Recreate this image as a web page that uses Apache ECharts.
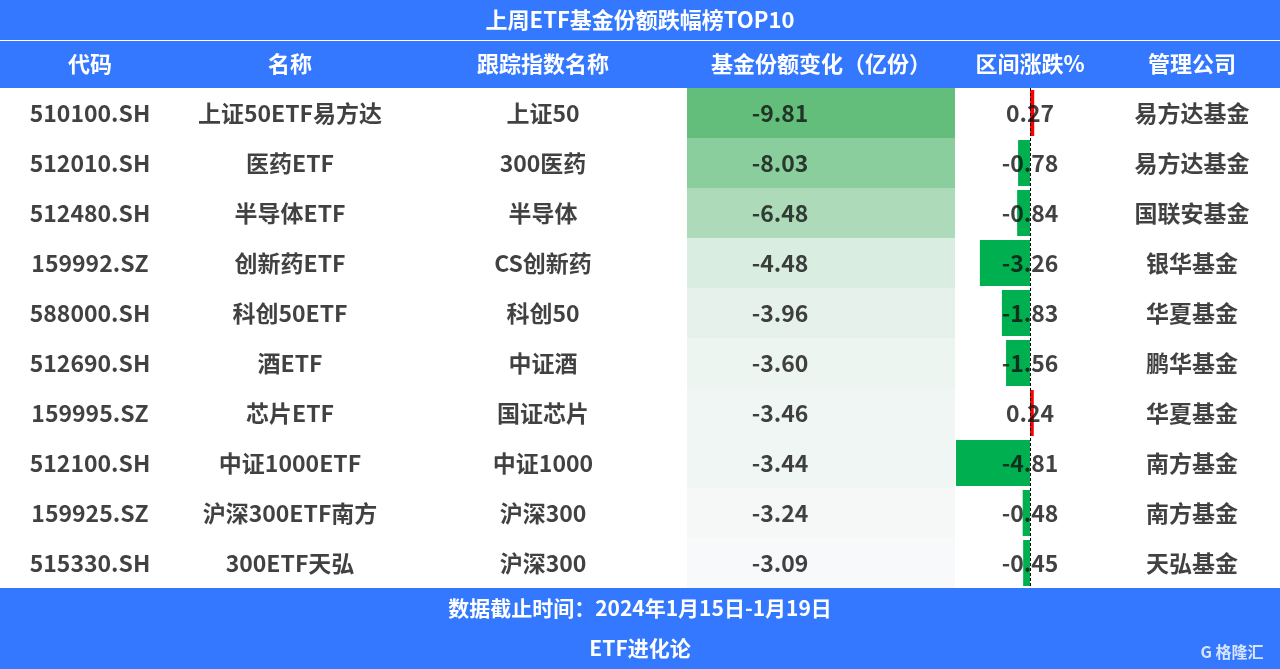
<!DOCTYPE html>
<html><head><meta charset="utf-8">
<script src="https://cdn.jsdelivr.net/npm/echarts@6/dist/echarts.min.js"></script>
<style>html,body{margin:0;padding:0;background:#fff}#c{width:1280px;height:669px}</style>
</head><body><div id="c"></div>
<script>
const codes=['510100.SH','512010.SH','512480.SH','159992.SZ','588000.SH','512690.SH','159995.SZ','512100.SH','159925.SZ','515330.SH'];
const names=['上证50ETF易方达','医药ETF','半导体ETF','创新药ETF','科创50ETF','酒ETF','芯片ETF','中证1000ETF','沪深300ETF南方','300ETF天弘'];
const indexNames=['上证50','300医药','半导体','CS创新药','科创50','中证酒','国证芯片','中证1000','沪深300','沪深300'];
const shareChange=[-9.81,-8.03,-6.48,-4.48,-3.96,-3.60,-3.46,-3.44,-3.24,-3.09];
const pctChange=[0.27,-0.78,-0.84,-3.26,-1.83,-1.56,0.24,-4.81,-0.48,-0.45];
const companies=['易方达基金','易方达基金','国联安基金','银华基金','华夏基金','鹏华基金','华夏基金','南方基金','南方基金','天弘基金'];
const headers=['代码','名称','跟踪指数名称','基金份额变化（亿份）','区间涨跌%','管理公司'];

const F='"Noto Sans CJK SC","Noto Sans",sans-serif';
const BLUE='#3378FF';
const colX=[90,290,543,780,1030,1192];
const headX=[90,290,543,821,1030,1192];
const rows=codes.map((_,i)=>i);
function textSeries(arr,x){
  return {type:'scatter',xAxisIndex:0,yAxisIndex:0,symbolSize:0,silent:true,z:5,
    data:arr.map((v,i)=>[x,i,v]),
    label:{show:true,position:'inside',formatter:p=>p.data[2],color:'#111',fontSize:23,fontFamily:F,fontWeight:'bold'}};
}
const chart=echarts.init(document.getElementById('c'));
chart.setOption({
  animation:false,
  grid:[{left:0,width:1280,top:88,height:500},{left:956,width:150,top:88,height:500}],
  xAxis:[{type:'value',min:0,max:1280,show:false},{gridIndex:1,type:'value',min:-4.81,max:4.93,show:false}],
  yAxis:[{type:'category',data:rows,inverse:true,show:false},{gridIndex:1,type:'category',data:rows,inverse:true,show:false}],
  visualMap:{show:false,seriesIndex:0,dimension:2,min:-9.81,max:-3.09,inRange:{color:['#63BE7B','#F8F9FA']}},
  graphic:[
    {type:'rect',shape:{x:0,y:0,width:1280,height:88},style:{fill:BLUE},z:-1},
    {type:'rect',shape:{x:0,y:40,width:1280,height:1},style:{fill:'#fff'},z:0},
    {type:'rect',shape:{x:0,y:588,width:1280,height:81},style:{fill:BLUE},z:-1},
    {type:'text',x:640,y:20,style:{text:'上周ETF基金份额跌幅榜TOP10',fill:'#fff',font:'bold 22px '+F,textAlign:'center',textVerticalAlign:'middle'}},
    ...headers.map((h,i)=>({type:'text',x:headX[i],y:64,style:{text:h,fill:'#fff',font:'bold 22px '+F,textAlign:'center',textVerticalAlign:'middle'}})),
    {type:'text',x:640,y:608,style:{text:'数据截止时间：2024年1月15日-1月19日',fill:'#fff',font:'bold 21px '+F,textAlign:'center',textVerticalAlign:'middle'}},
    {type:'text',x:640,y:648,style:{text:'ETF进化论',fill:'#fff',font:'bold 21px '+F,textAlign:'center',textVerticalAlign:'middle'}},
    {type:'text',x:1232,y:652,style:{text:'G 格隆汇',fill:'rgba(255,255,255,0.8)',font:'bold 16px '+F,textAlign:'center',textVerticalAlign:'middle'}}
  ],
  series:[
    {type:'custom',xAxisIndex:0,yAxisIndex:0,z:1,silent:true,
      data:shareChange.map((v,i)=>[687,i,v]),
      encode:{x:0,y:1},
      renderItem:(params,api)=>{
        const i=api.value(1);
        const a=api.coord([687,i]),b=api.coord([955,i]);
        const h=api.size([0,1])[1];
        return {type:'rect',shape:{x:a[0],y:a[1]-h/2,width:b[0]-a[0],height:h},style:{fill:api.visual('color')}};
      }},
    {type:'bar',xAxisIndex:1,yAxisIndex:1,barWidth:46,z:2,silent:true,
      data:pctChange.map(v=>({value:v,itemStyle:{color:v>=0?'#FF0000':'#00B050'}})),
      markLine:{symbol:'none',silent:true,label:{show:false},lineStyle:{color:'#000',type:[3,2],width:1},data:[{xAxis:0}]}},
    textSeries(codes,colX[0]),
    textSeries(names,colX[1]),
    textSeries(indexNames,colX[2]),
    textSeries(shareChange.map(v=>v.toFixed(2)),colX[3]),
    textSeries(pctChange.map(v=>v.toFixed(2)),colX[4]),
    textSeries(companies,colX[5])
  ]
});
</script></body></html>
